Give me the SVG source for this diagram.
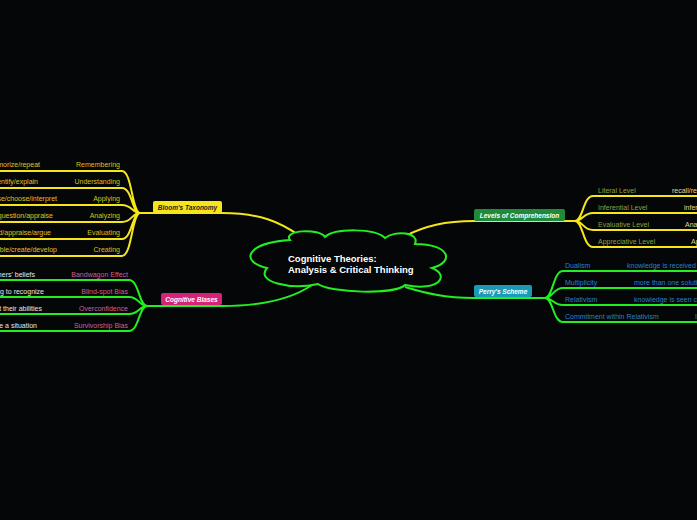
<svg xmlns="http://www.w3.org/2000/svg" width="697" height="520" viewBox="0 0 697 520">
<style>
text{font-family:"Liberation Sans",Arial,sans-serif;font-size:7px}
.t{font-size:9.5px;font-weight:bold;fill:#fff}
.y{stroke:#f5e61a;fill:none;stroke-width:2}
.g{stroke:#22ee22;fill:none;stroke-width:2}
.nl{font-size:6.5px;font-weight:bold;font-style:italic}
.bl{fill:#d8c214}.bd{fill:#e0c020}
.bi{fill:#d0609a}.bw{fill:#e8e8e8}
.lv{fill:#8aa040}.lw{fill:#e0d890}
.pe{fill:#2a80c8}
</style>
<rect width="697" height="520" fill="#050608"/>
<g id="connectors">
<path class="y" d="M300,236 C280,222 260,213 222,213 L140,213"/>
<path class="y" d="M140,213 C132,213 132,171 122,171 L0,171 M140,213 C132,213 132,188 122,188 L0,188 M140,213 C132,213 132,205 122,205 L0,205 M140,213 C132,213 132,222 122,222 L0,222 M140,213 C132,213 132,239 122,239 L0,239 M140,213 C132,213 132,256 122,256 L0,256"/>
<path class="g" d="M312,285 C290,300 260,306 222,306 L147,306"/>
<path class="g" d="M147,306 C139,306 139,280 129,280 L0,280 M147,306 C139,306 139,297 129,297 L0,297 M147,306 C139,306 139,314 129,314 L0,314 M147,306 C139,306 139,331 129,331 L0,331"/>
<path class="y" d="M405,236 C425,226 445,221 474,221 L575,221"/>
<path class="y" d="M575,221 C583,221 583,196 593,196 L697,196 M575,221 C583,221 583,213 593,213 L697,213 M575,221 C583,221 583,230 593,230 L697,230 M575,221 C583,221 583,247 593,247 L697,247"/>
<path class="g" d="M405,287 C425,293 445,298 474,298 L545,298"/>
<path class="g" d="M545,298 C553,298 553,271 563,271 L697,271 M545,298 C553,298 553,288 563,288 L697,288 M545,298 C553,298 553,305 563,305 L697,305 M545,298 C553,298 553,322 563,322 L697,322"/>
</g>
<g id="root">
<path d="M290,240 C282,230 320,228 325,237 C335,228 375,228 385,238 C395,230 420,232 415,244 C450,244 455,262 432,268 C450,275 440,292 405,285 C395,295 330,293 318,284 C290,290 255,282 267,268 C240,262 245,243 290,240 Z" fill="#050608" stroke="#22ee22" stroke-width="2"/>
<text x="288" y="262" class="t">Cognitive Theories:</text>
<text x="288" y="273" class="t">Analysis &amp; Critical Thinking</text>
</g>
<g id="bloom">
<rect x="153" y="201" width="69" height="12" rx="2" fill="#f5e61a"/>
<text x="187.5" y="209.5" text-anchor="middle" class="nl" fill="#222">Bloom's Taxonomy</text>
<text x="120" y="167" text-anchor="end" class="bl">Remembering</text>
<text x="120" y="184" text-anchor="end" class="bl">Understanding</text>
<text x="120" y="201" text-anchor="end" class="bl">Applying</text>
<text x="120" y="218" text-anchor="end" class="bl">Analyzing</text>
<text x="120" y="235" text-anchor="end" class="bl">Evaluating</text>
<text x="120" y="252" text-anchor="end" class="bl">Creating</text>
<text x="40" y="167" text-anchor="end" class="bd">memorize/repeat</text>
<text x="38" y="184" text-anchor="end" class="bd">identify/explain</text>
<text x="57" y="201" text-anchor="end" class="bd">choose/choose/interpret</text>
<text x="53" y="218" text-anchor="end" class="bd">question/appraise</text>
<text x="51" y="235" text-anchor="end" class="bd">defend/appraise/argue</text>
<text x="57" y="252" text-anchor="end" class="bd">assemble/create/develop</text>
</g>
<g id="biases">
<rect x="161" y="293" width="61" height="12" rx="2" fill="#d6237a"/>
<text x="191.5" y="301.5" text-anchor="middle" class="nl" fill="#fff">Cognitive Biases</text>
<text x="128" y="277" text-anchor="end" class="bi">Bandwagon Effect</text>
<text x="128" y="294" text-anchor="end" class="bi">Blind-spot Bias</text>
<text x="128" y="311" text-anchor="end" class="bi">Overconfidence</text>
<text x="128" y="328" text-anchor="end" class="bi">Survivorship Bias</text>
<text x="35" y="277" text-anchor="end" class="bw">others' beliefs</text>
<text x="44" y="294" text-anchor="end" class="bw">failing to recognize</text>
<text x="42" y="311" text-anchor="end" class="bw">about their abilities</text>
<text x="37" y="328" text-anchor="end" class="bw">judge a situation</text>
</g>
<g id="levels">
<rect x="474" y="209" width="91" height="12" rx="2" fill="#1e8a3a"/>
<text x="519.5" y="217.5" text-anchor="middle" class="nl" fill="#fff">Levels of Comprehension</text>
<text x="598" y="193" class="lv">Literal Level</text>
<text x="598" y="210" class="lv">Inferential Level</text>
<text x="598" y="227" class="lv">Evaluative Level</text>
<text x="598" y="244" class="lv">Appreciative Level</text>
<text x="672" y="193" class="lw">recall/recognize</text>
<text x="684" y="210" class="lw">inferring</text>
<text x="685" y="227" class="lw">Analyzing</text>
<text x="691" y="244" class="lw">Appreciating</text>
</g>
<g id="perry">
<rect x="474" y="285" width="58" height="12" rx="2" fill="#1a9bb5"/>
<text x="503" y="293.5" text-anchor="middle" class="nl" fill="#fff">Perry's Scheme</text>
<text x="565" y="268" class="pe">Dualism</text>
<text x="565" y="285" class="pe">Multiplicity</text>
<text x="565" y="302" class="pe">Relativism</text>
<text x="565" y="319" class="pe">Commitment within Relativism</text>
<text x="627" y="268" class="pe">knowledge is received from authority</text>
<text x="634" y="285" class="pe">more than one solution</text>
<text x="634" y="302" class="pe">knowledge is seen contextually</text>
<text x="695" y="319" class="pe">I commit</text>
</g>
</svg>
